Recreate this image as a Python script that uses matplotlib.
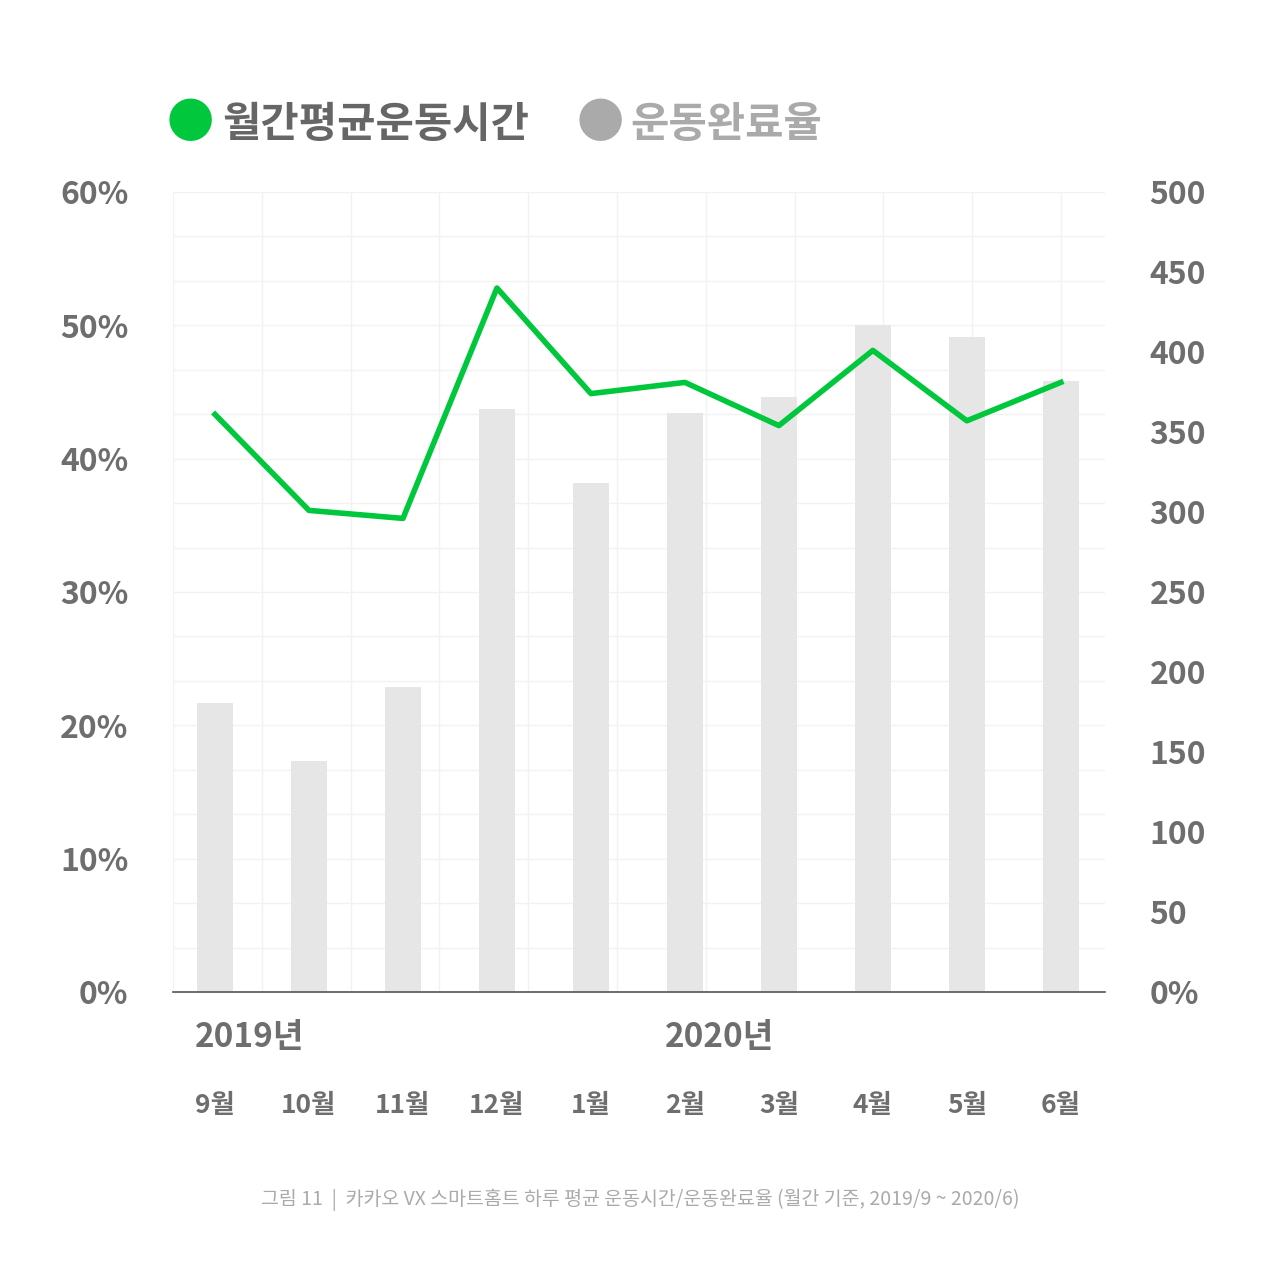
import numpy as np
import matplotlib.pyplot as plt

plt.rcParams["font.family"] = ["Noto Sans CJK KR", "Noto Sans CJK JP", "Noto Sans CJK SC", "DejaVu Sans"]

# data
months = ["9월", "10월", "11월", "12월", "1월", "2월", "3월", "4월", "5월", "6월"]
completion = [21.7, 17.3, 22.9, 43.7, 38.2, 43.4, 44.6, 50.0, 49.1, 45.8]   # 운동완료율 (%)
minutes = [361, 301, 296, 440, 374, 381, 354, 401, 357, 381]             # 월간평균운동시간
years = ["2019년", "2020년"]

GREEN = "#00c73c"
BAR = "#e6e6e6"
TXT = "#6e6e6e"

fig = plt.figure(figsize=(12.8, 12.8), dpi=100)
ax = fig.add_axes([173/1280, 1 - 992/1280, (1105-173)/1280, (992-192)/1280])
ax2 = ax.twinx()

x = np.arange(len(months))
ax.bar(x, completion, width=0.38, color=BAR, zorder=2)
ax.set_xlim(-0.447, 9.47)
ax.set_ylim(0, 60)
ax.set_yticks(range(0, 61, 10))
ax.set_yticklabels([f"{v}%" for v in range(0, 61, 10)])

# light grid
for yv in np.arange(0, 60.1, 10/3):
    ax.axhline(yv, color="#f2f2f2", lw=1, zorder=0)
for xv in np.arange(-0.447, 9.5, 0.945):
    ax.axvline(xv, color="#f2f2f2", lw=1, zorder=0)

ax2.plot(x, minutes, color=GREEN, lw=4, zorder=3)
ax2.set_ylim(0, 500)
ax2.set_yticks(range(0, 501, 50))
ax2.set_yticklabels(["0%"] + [str(v) for v in range(50, 501, 50)])

for a in (ax, ax2):
    for s in a.spines.values():
        s.set_visible(False)
    a.tick_params(length=0, labelsize=23, labelcolor=TXT)
    for lab in a.get_yticklabels():
        lab.set_fontweight("bold")
ax.tick_params(axis="y", pad=32)
ax2.tick_params(axis="y", pad=32)
ax.spines["bottom"].set_visible(True)
ax.spines["bottom"].set_color("#555555")
ax.spines["bottom"].set_linewidth(1.2)

ax.set_xticks(x)
ax.set_xticklabels(months, fontsize=19, fontweight="bold", color=TXT)
ax.tick_params(axis="x", pad=72)

fig.text(195/1280, 1 - 1037/1280, years[0], fontsize=24, fontweight="bold", color=TXT, va="center")
fig.text(665/1280, 1 - 1037/1280, years[1], fontsize=24, fontweight="bold", color=TXT, va="center")

# legend
fig.text(190/1280, 1 - 125/1280, "●", fontsize=34, color=GREEN, va="center", ha="center")
fig.text(222/1280, 1 - 125/1280, "월간평균운동시간", fontsize=30, fontweight="bold", color="#666666", va="center")
fig.text(600/1280, 1 - 125/1280, "●", fontsize=34, color="#aaaaaa", va="center", ha="center")
fig.text(630/1280, 1 - 125/1280, "운동완료율", fontsize=30, fontweight="bold", color="#aaaaaa", va="center")

fig.text(640/1280, 1 - 1200/1280,
         "그림 11  |  카카오 VX 스마트홈트 하루 평균 운동시간/운동완료율 (월간 기준, 2019/9 ~ 2020/6)",
         fontsize=14, color="#aaaaaa", ha="center", va="center")

fig.savefig("out.png", dpi=100, facecolor="white")
